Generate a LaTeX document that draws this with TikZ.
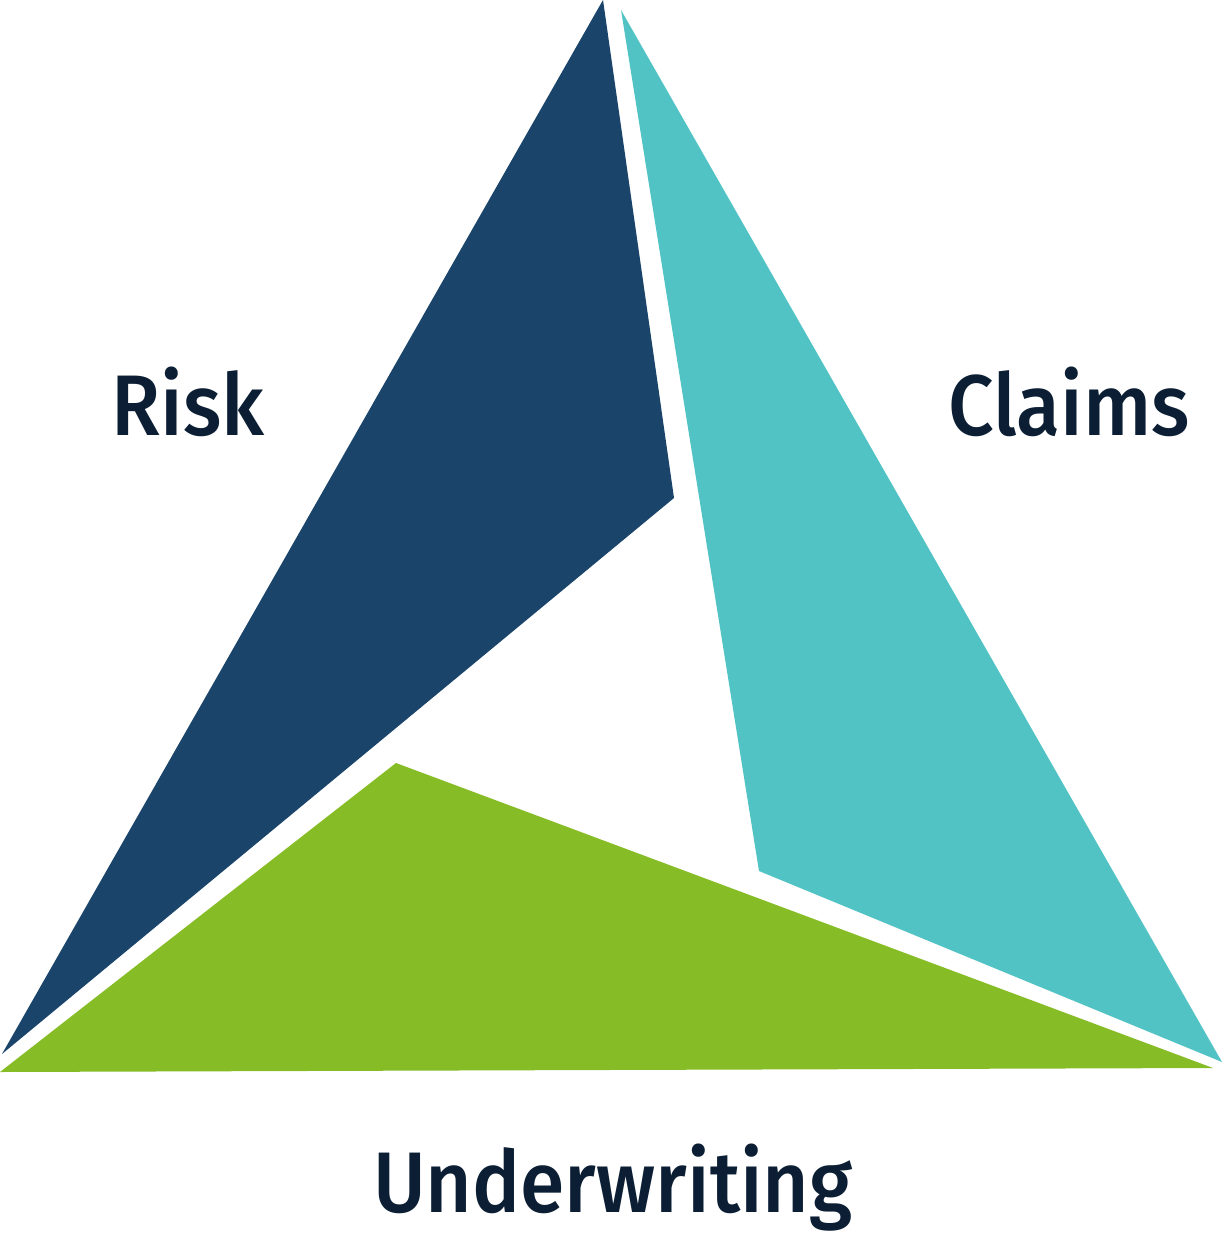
\documentclass[tikz,border=0pt]{standalone}
\usepackage{fontspec}
\setmainfont{Fira Sans}[UprightFont=* Medium,FakeStretch=0.935]
\definecolor{riskblue}{HTML}{1A4469}
\definecolor{claimteal}{HTML}{52C3C4}
\definecolor{uwgreen}{HTML}{86BC25}
\definecolor{labelink}{HTML}{0B1E33}
\begin{document}
\begin{tikzpicture}[x=1pt,y=-1pt,
  label/.style={text=labelink,font=\fontsize{86}{100}\selectfont,inner sep=0pt,anchor=base west}]
\useasboundingbox (0,0) rectangle (1224,1233);
\fill[riskblue] (603,0) -- (674,498) -- (2,1054) -- cycle;
\fill[claimteal] (621,10) -- (1222,1062) -- (759,871) -- cycle;
\fill[uwgreen] (396,763) -- (1213,1068) -- (0,1072) -- cycle;
\node[label] (risk) at (111,435) {Risk};
\node[label] (claims) at (948,435) {Claims};
\node[label] (uw) at (373,1212) {Underwriting};
\end{tikzpicture}
\end{document}
